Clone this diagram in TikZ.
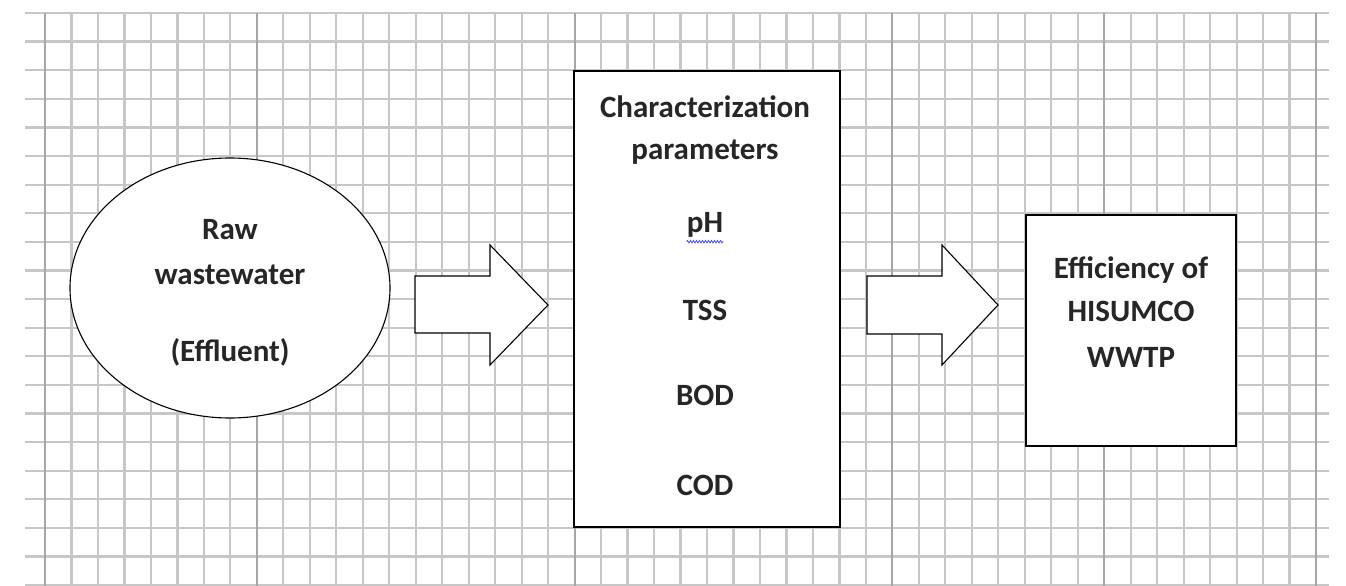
\documentclass[tikz,border=0pt]{standalone}
\usepackage{fontspec}
\setmainfont{Carlito}
\usetikzlibrary{decorations.pathmorphing,shapes.geometric}
\begin{document}
\begin{tikzpicture}[x=1pt,y=-1pt,
  txt/.style={font=\fontsize{31}{33}\selectfont\bfseries, color=black!85, inner sep=0pt, anchor=center},
  gridl/.style={draw=black!22, line width=2.2pt},
  shp/.style={draw=black, line width=1.1pt, fill=white}]
\useasboundingbox (0,0) rectangle (1346,586);
\fill[white] (0,0) rectangle (1346,586);
\foreach \i in {0,...,48} \draw[gridl] ({45+\i*26.48},13) -- ({45+\i*26.48},586);
\foreach \j in {0,...,20} \draw[gridl] (25,{13+\j*28.6}) -- (1329,{13+\j*28.6});
\foreach \i in {0,8,20,32,40,48} \draw[draw=black!35, line width=2.2pt] ({45+\i*26.48},13) -- ({45+\i*26.48},586);
% shapes
\node[shp, ellipse, minimum width=320, minimum height=260] (raw) at (230,288) {};
\draw[shp] (574,71) rectangle (840,527);
\draw[shp] (1026,215) rectangle (1236,446);
\draw[shp] (415,276) -- (490,276) -- (490,245) -- (548,305) -- (490,365) -- (490,333) -- (415,333) -- cycle;
\draw[shp] (867,276) -- (942,276) -- (942,245) -- (998,305) -- (942,365) -- (942,334) -- (867,334) -- cycle;
% texts
\node[txt] (t1) at (230,230) {Raw};
\node[txt] (t2) at (230,275) {wastewater};
\node[txt] (t3) at (230,352) {(Effluent)};
\node[txt] (c1) at (705,107) {Characterization};
\node[txt] (c2) at (705,152) {parameters};
\node[txt] (c3) at (705,225) {pH};
\draw[blue!70, line width=0.8pt, decorate, decoration={zigzag, amplitude=1.2pt, segment length=3pt}] ([yshift=-4pt]c3.south west) -- ([yshift=-4pt]c3.south east);
\node[txt] (c4) at (705,310) {TSS};
\node[txt] (c5) at (705,395) {BOD};
\node[txt] (c6) at (705,485) {COD};
\node[txt] (e1) at (1131,270) {Efficiency of};
\node[txt] (e2) at (1131,311) {HISUMCO};
\node[txt] (e3) at (1131,357) {WWTP};
\end{tikzpicture}
\end{document}
